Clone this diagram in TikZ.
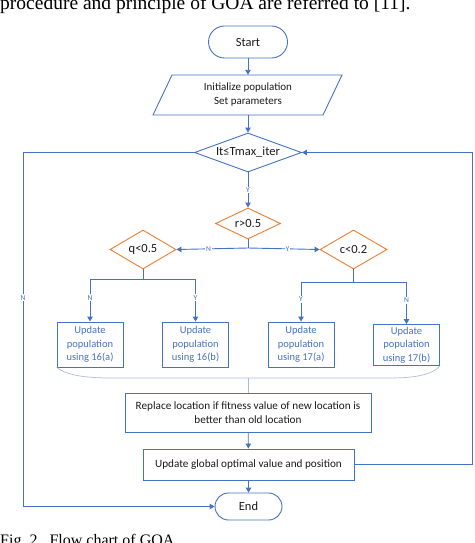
\documentclass[tikz,border=0pt]{standalone}
\usepackage{fontspec}
\setmainfont{Carlito}
\newfontfamily\capfont{Liberation Serif}
\usetikzlibrary{shapes.geometric,arrows.meta}
\definecolor{lblue}{HTML}{4472C4}
\definecolor{lorange}{HTML}{ED7D31}
\definecolor{bracecol}{HTML}{AEBBDB}
\definecolor{txt}{HTML}{1A1A1A}
\begin{document}
\begin{tikzpicture}[x=1pt,y=-1pt,
  line/.style={draw=lblue, line width=0.9pt},
  arr/.style={line, -{Triangle[width=5.5pt,length=5pt]}},
  lab/.style={text=lblue, fill=white, inner sep=1pt, font=\fontsize{7.5}{8}\selectfont},
  term/.style={draw=lblue, line width=0.9pt, rounded corners=#1, inner sep=0pt, text=txt, font=\fontsize{12.5}{14}\selectfont},
  dec/.style={diamond, draw=lblue, line width=0.9pt, inner sep=0pt, text=txt, font=\fontsize{12.5}{14}\selectfont},
  odec/.style={diamond, draw=lorange, line width=0.9pt, inner sep=0pt, text=txt, font=\fontsize{12.5}{14}\selectfont},
  upd/.style={draw=lblue, line width=0.9pt, minimum width=66pt, inner sep=0pt, align=center, text=lblue, font=\fontsize{10.5}{13.5}\selectfont},
  proc/.style={draw=lblue, line width=0.9pt, inner sep=0pt, align=center, text=txt, font=\fontsize{11.2}{13.5}\selectfont},
  brace/.style={draw=bracecol, line width=0.7pt}]
\useasboundingbox (0,0) rectangle (474,543);
% surrounding text of the page
\node[anchor=base west, inner sep=0pt, font=\capfont\fontsize{19.5}{22}\selectfont] (toptext) at (0,9.5) {procedure and principle of GOA are referred to [11].};
\node[anchor=base west, inner sep=0pt, font=\capfont\fontsize{16}{18}\selectfont] (caption) at (0,545.5) {Fig.~2.\ \ Flow chart of GOA};
% nodes
\node[term=16pt, minimum width=79pt, minimum height=32pt] (start) at (248,42) {Start};
\draw[line] (153,115) -- (172,75) -- (342,75) -- (323,115) -- cycle;
\node[inner sep=0pt, minimum width=150pt, minimum height=40pt, align=center, text=txt, font=\fontsize{11}{14}\selectfont] (init) at (248,95) {Initialize population\\Set parameters};
\node[dec, minimum width=107pt, minimum height=39pt, shape aspect=2.7] (it) at (248,152.5) {It≤Tmax\_iter};
\node[odec, minimum width=65pt, minimum height=31pt, shape aspect=2.1] (r) at (248,223.5) {r>0.5};
\node[odec, minimum width=66pt, minimum height=39pt, shape aspect=1.7] (q) at (143,249.5) {q<0.5};
\node[odec, minimum width=67pt, minimum height=39pt, shape aspect=1.7] (c) at (353.5,249.5) {c<0.2};
\node[upd, minimum height=45pt] (u16a) at (90,344.5) {Update\\population\\using 16(a)};
\node[upd, minimum height=45pt] (u16b) at (195.5,344.5) {Update\\population\\using 16(b)};
\node[upd, minimum height=45pt] (u17a) at (301,344.5) {Update\\population\\using 17(a)};
\node[upd, minimum height=41pt] (u17b) at (406.5,345) {Update\\population\\using 17(b)};
\node[proc, minimum width=246pt, minimum height=39pt] (repl) at (248,412.5) {Replace location if fitness value of new location is\\better than old location};
\node[proc, minimum width=211pt, minimum height=31pt] (glob) at (248.5,464.5) {Update global optimal value and position};
\node[term=13.5pt, minimum width=67pt, minimum height=27pt] (end) at (248.5,506.5) {End};
% connectors
\draw[arr] (start) -- (init);
\draw[arr] (init) -- (it);
\draw[arr] (it) -- node[lab, pos=0.5] {Y} (r);
\coordinate (rj) at (248,248);
\draw[line] (r.south) -- (rj);
\draw[arr] (rj) -- node[lab, pos=0.55] {N} (q.east);
\draw[arr] (rj) -- node[lab, pos=0.55] {Y} (c.west);
% q branches
\coordinate (qj) at (143,279);
\draw[line] (q.south) -- (qj);
\draw[arr] (qj) -| node[lab, pos=0.72] {N} (u16a.north);
\draw[arr] (qj) -| node[lab, pos=0.72] {Y} (u16b.north);
% c branches
\coordinate (cj) at (353.5,282);
\draw[line] (c.south) -- (cj);
\draw[arr] (cj) -| node[lab, pos=0.72] {Y} (u17a.north);
\draw[arr] (cj) -| node[lab, pos=0.72] {N} (u17b.north);
% brace collecting the four updates
\coordinate (bm) at (248,378);
\draw[brace] (u16a.south west) .. controls (68,376) and (88,378) .. (112,378) -- (390,378) .. controls (414,378) and (432,375) .. (u17b.south east);
\draw[brace] (bm) -- (repl.north);
\draw[arr] (repl) -- (glob);
\draw[arr] (glob) -- (end);
% loops
\coordinate (lt) at (23,152.5);
\coordinate (lb) at (23,506.5);
\draw[arr] (it.west) -- (lt) -- node[lab, pos=0.41] {N} (lb) -- (end.west);
\coordinate (rb) at (472.5,464.5);
\coordinate (rt) at (472.5,152.5);
\draw[arr] (glob.east) -- (rb) -- (rt) -- (it.east);
\end{tikzpicture}
\end{document}
